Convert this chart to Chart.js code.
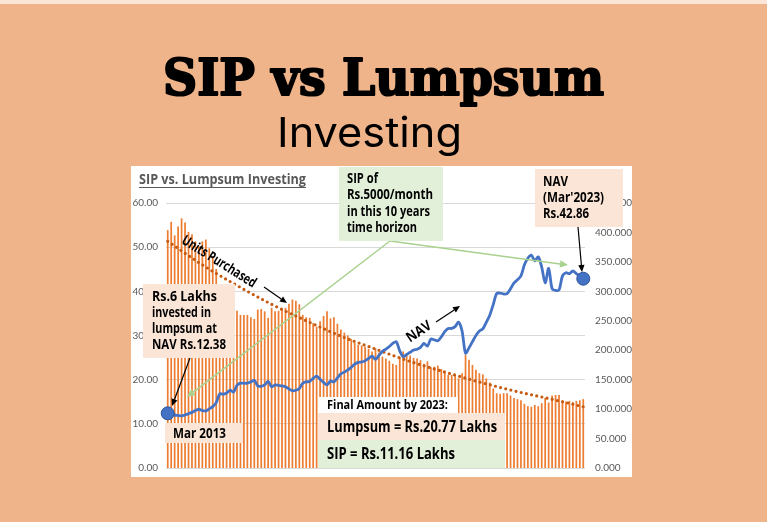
<!DOCTYPE html>
<html><head><meta charset="utf-8">
<script src="https://cdn.jsdelivr.net/npm/chart.js@4.4.0/dist/chart.umd.min.js"></script>
<style>html,body{margin:0;padding:0;background:#EFB48A;} #wrap{width:767px;height:522px;position:relative;}</style>
</head><body><div id="wrap"><canvas id="c" width="767" height="522"></canvas></div>
<script>
// ---- DATA ----
const months = [
'Mar-13','Apr-13','May-13','Jun-13','Jul-13','Aug-13','Sep-13','Oct-13','Nov-13','Dec-13',
'Jan-14','Feb-14','Mar-14','Apr-14','May-14','Jun-14','Jul-14','Aug-14','Sep-14','Oct-14','Nov-14','Dec-14',
'Jan-15','Feb-15','Mar-15','Apr-15','May-15','Jun-15','Jul-15','Aug-15','Sep-15','Oct-15','Nov-15','Dec-15',
'Jan-16','Feb-16','Mar-16','Apr-16','May-16','Jun-16','Jul-16','Aug-16','Sep-16','Oct-16','Nov-16','Dec-16',
'Jan-17','Feb-17','Mar-17','Apr-17','May-17','Jun-17','Jul-17','Aug-17','Sep-17','Oct-17','Nov-17','Dec-17',
'Jan-18','Feb-18','Mar-18','Apr-18','May-18','Jun-18','Jul-18','Aug-18','Sep-18','Oct-18','Nov-18','Dec-18',
'Jan-19','Feb-19','Mar-19','Apr-19','May-19','Jun-19','Jul-19','Aug-19','Sep-19','Oct-19','Nov-19','Dec-19',
'Jan-20','Feb-20','Mar-20','Apr-20','May-20','Jun-20','Jul-20','Aug-20','Sep-20','Oct-20','Nov-20','Dec-20',
'Jan-21','Feb-21','Mar-21','Apr-21','May-21','Jun-21','Jul-21','Aug-21','Sep-21','Oct-21','Nov-21','Dec-21',
'Jan-22','Feb-22','Mar-22','Apr-22','May-22','Jun-22','Jul-22','Aug-22','Sep-22','Oct-22','Nov-22','Dec-22',
'Jan-23','Feb-23','Mar-23'];

const navValues = [
12.38,12.2,12.0,11.9,11.8,12.0,12.3,12.6,13.0,13.3,
13.0,12.9,13.4,13.9,14.8,16.8,16.7,17.0,17.6,17.2,
18.7,19.2,19.2,19.2,19.5,19.8,18.6,18.5,18.8,19.6,
18.4,18.8,18.7,18.6,18.4,17.9,17.5,17.6,18.0,19.2,
19.5,19.6,20.3,20.8,20.1,19.4,18.8,19.7,19.5,20.4,
21.3,21.7,22.2,22.8,23.5,23.9,24.0,24.3,24.8,25.3,
24.6,25.5,26.4,26.9,27.5,28.2,28.6,26.5,25.2,25.7,
26.2,26.7,26.9,27.3,28.2,27.6,29.2,29.0,28.8,29.7,
30.9,31.6,31.6,32.0,33.0,31.0,26.0,27.2,28.6,30.0,
31.0,31.5,33.0,34.6,37.0,39.5,39.6,39.4,39.5,40.6,
41.9,42.6,43.5,46.0,47.5,48.2,46.9,47.8,45.5,41.9,
45.2,40.6,40.2,40.3,43.5,44.2,44.0,44.6,44.0,43.5,
42.86];

const unitsPurchased = [
404,418,395,410,424,417,401,397,385,376,
385,388,373,360,338,298,299,294,284,291,
267,260,260,260,256,253,269,270,266,255,
272,266,267,269,272,279,286,284,278,260,
256,255,246,240,249,258,266,254,256,245,
235,230,225,219,213,209,208,206,202,198,
203,196,189,186,182,177,175,189,198,195,
191,187,186,183,177,181,171,172,174,168,
162,158,158,156,152,161,192,184,175,167,
161,159,152,145,135,127,126,127,127,123,
119,117,115,109,105,104,107,105,110,119,
111,123,124,124,115,113,114,112,114,115,
117];

// trend line readings (month index, units)
const trendIndex  = [0,10,20,30,40,50,60,70,80,90,100,110,120];
const trendValues = [385,345,310,278,250,224,202,181,163,146,131,118,104];

const navTicks  = [0,10,20,30,40,50,60];
const unitTicks = [0,50,100,150,200,250,300,350,400,450];

// table for the library
const trendSeries = months.map(() => null);
trendIndex.forEach((ix, k) => { trendSeries[ix] = trendValues[k]; });

// ---- DRAW HELPERS ----
const PEACH = '#FBE5D6', GREEN = '#E2F0D9';
function ftext(ctx, s, x, y, font, w, color, baseline, strokeW) {
  ctx.save();
  ctx.font = font;
  ctx.fillStyle = color || '#000';
  ctx.strokeStyle = color || '#000';
  ctx.textBaseline = baseline || 'middle';
  ctx.textAlign = 'left';
  const m = ctx.measureText(s).width;
  const sx = w ? w / m : 1;
  ctx.translate(x, y);
  ctx.scale(sx, 1);
  ctx.fillText(s, 0, 0);
  if (strokeW) { ctx.lineWidth = strokeW; ctx.lineJoin = 'round'; ctx.strokeText(s, 0, 0); }
  ctx.restore();
}
function rtext(ctx, s, cx, cy, ang, font, w) {
  ctx.save();
  ctx.font = font;
  ctx.fillStyle = '#000';
  ctx.textBaseline = 'middle';
  ctx.textAlign = 'center';
  const m = ctx.measureText(s).width;
  ctx.translate(cx, cy);
  ctx.rotate(ang * Math.PI / 180);
  ctx.scale(w / m, 1);
  ctx.fillText(s, 0, 0);
  ctx.restore();
}
function arrow(ctx, x1, y1, x2, y2, color, lw, head) {
  ctx.save();
  ctx.strokeStyle = color; ctx.fillStyle = color; ctx.lineWidth = lw;
  const a = Math.atan2(y2 - y1, x2 - x1);
  const bx = x2 - head * Math.cos(a), by = y2 - head * Math.sin(a);
  ctx.beginPath(); ctx.moveTo(x1, y1); ctx.lineTo(bx, by); ctx.stroke();
  ctx.beginPath();
  ctx.moveTo(x2, y2);
  ctx.lineTo(bx + head * 0.45 * Math.sin(a), by - head * 0.45 * Math.cos(a));
  ctx.lineTo(bx - head * 0.45 * Math.sin(a), by + head * 0.45 * Math.cos(a));
  ctx.closePath(); ctx.fill();
  ctx.restore();
}
function box(ctx, x, y, w, h, color) { ctx.fillStyle = color; ctx.fillRect(x, y, w, h); }

const B = (s) => 'bold ' + s + 'px "Open Sans"';

const decor = {
  id: 'decor',
  beforeDraw(chart) {
    const ctx = chart.ctx;
    ctx.save();
    ctx.fillStyle = '#EFB48A'; ctx.fillRect(0, 0, 767, 522);
    ctx.fillStyle = '#FBE6D8'; ctx.fillRect(0, 0, 767, 4);
    ctx.fillStyle = '#FFFFFF'; ctx.fillRect(131, 166, 501, 311);
    // main titles
    ftext(ctx, 'SIP vs Lumpsum', 163, 95, 'bold 51px "DejaVu Serif"', 441, '#000', 'alphabetic', 2.2);
    ftext(ctx, 'Investing', 277, 147, '41px Inter', 185, '#000', 'alphabetic');
    // chart title
    ftext(ctx, 'SIP vs. Lumpsum Investing', 139, 184, 'bold 14.5px "Open Sans"', 167, '#595959', 'alphabetic');
    ctx.strokeStyle = '#595959'; ctx.lineWidth = 1;
    ctx.beginPath(); ctx.moveTo(139, 187.5); ctx.lineTo(306, 187.5); ctx.stroke();
    ctx.restore();
  },
  afterDraw(chart) {
    const ctx = chart.ctx;
    ctx.save();
    // green connector lines
    arrow(ctx, 390, 241, 568, 265, '#A9D18E', 1.5, 8);
    arrow(ctx, 390, 241, 187, 397, '#A9D18E', 1.5, 8);

    // Rs.6 Lakhs box
    box(ctx, 143, 284, 92, 74, PEACH);
    ftext(ctx, 'Rs.6 Lakhs', 152, 297, B(14), 65);
    ftext(ctx, 'invested in', 152, 313, B(14), 59);
    ftext(ctx, 'lumpsum at', 152, 329, B(14), 65);
    ftext(ctx, 'NAV Rs.12.38', 152, 345, B(14), 74);
    arrow(ctx, 190, 358, 172, 406, '#000', 1.2, 7);

    // Mar 2013
    box(ctx, 165, 423, 78, 20, PEACH);
    ftext(ctx, 'Mar 2013', 173, 434, B(14), 53);

    // SIP green box
    box(ctx, 339, 167, 104, 74, GREEN);
    ftext(ctx, 'SIP of', 347, 179, B(14), 31);
    ftext(ctx, 'Rs.5000/month', 347, 195, B(14), 86);
    ftext(ctx, 'in this 10 years', 347, 212, B(14), 83);
    ftext(ctx, 'time horizon', 347, 228, B(14), 70);

    // NAV box
    box(ctx, 535, 169, 88, 58, PEACH);
    ftext(ctx, 'NAV', 543, 182, B(14), 25);
    ftext(ctx, "(Mar'2023)", 543, 198, B(14), 61);
    ftext(ctx, 'Rs.42.86', 543, 214, B(14), 46);
    arrow(ctx, 578, 227, 582, 272, '#000', 1.2, 7);

    // Final amount boxes
    box(ctx, 318, 397, 140, 16, '#FFFFFF');
    ftext(ctx, 'Final Amount by 2023:', 327, 405.5, B(12.5), 121);
    box(ctx, 318, 413, 187, 27, PEACH);
    ftext(ctx, 'Lumpsum = Rs.20.77 Lakhs', 327, 427, B(16), 170);
    box(ctx, 318, 440, 187, 28, GREEN);
    ftext(ctx, 'SIP = Rs.11.16 Lakhs', 327, 454, B(16), 128);

    // rotated labels + arrows
    rtext(ctx, 'Units Purchased', 219, 262, 32, B(14), 85);
    arrow(ctx, 264, 287, 287, 303, '#000', 1.2, 7);
    rtext(ctx, 'NAV', 419, 332, -34, B(14), 27);
    arrow(ctx, 436, 322, 460, 306, '#000', 1.2, 7);
    ctx.restore();
  }
};

const last = navValues.length - 1;
new Chart(document.getElementById('c'), {
  type: 'bar',
  data: {
    labels: months,
    datasets: [
      {
        type: 'line', label: 'NAV', data: navValues, yAxisID: 'y', order: 0,
        borderColor: '#4472C4', borderWidth: 2.8, tension: 0.3,
        pointRadius: (c) => (c.dataIndex === 0 || c.dataIndex === last) ? 6.5 : 0,
        pointBackgroundColor: '#4472C4', pointBorderColor: '#2F5597', pointBorderWidth: 1
      },
      {
        type: 'line', label: 'Trend', data: trendSeries, yAxisID: 'y1', order: 1,
        spanGaps: true, cubicInterpolationMode: 'monotone',
        borderColor: '#C55A11', borderWidth: 3.2, borderDash: [0, 5.3], borderCapStyle: 'round',
        pointRadius: 0
      },
      {
        type: 'bar', label: 'Units Purchased', data: unitsPurchased, yAxisID: 'y1', order: 2,
        backgroundColor: '#ED7D31', barPercentage: 0.5, categoryPercentage: 1
      }
    ]
  },
  options: {
    responsive: false, animation: false, devicePixelRatio: 1,
    layout: { padding: { top: 203, bottom: 54, left: 0, right: 0 } },
    plugins: { legend: { display: false }, tooltip: { enabled: false } },
    scales: {
      x: { display: false, offset: true },
      y: {
        position: 'left', min: 0, max: 60,
        afterBuildTicks: (s) => { s.ticks = navTicks.map(v => ({ value: v })); },
        afterFit: (s) => { s.width = 166; s.paddingTop = 0; s.paddingBottom = 0; },
        ticks: { color: '#595959', font: { family: 'Lato', size: 10 }, padding: 8,
                 callback: (v) => Number(v).toFixed(2) },
        grid: { color: '#D9D9D9', lineWidth: 1, drawTicks: false },
        border: { display: false }
      },
      y1: {
        position: 'right', min: 0, max: 450,
        afterBuildTicks: (s) => { s.ticks = unitTicks.map(v => ({ value: v })); },
        afterFit: (s) => { s.width = 182; s.paddingTop = 0; s.paddingBottom = 0; },
        ticks: { color: '#595959', font: { family: 'Lato', size: 10 }, padding: 10,
                 callback: (v) => Number(v).toFixed(3) },
        grid: { display: false, drawTicks: false },
        border: { display: false }
      }
    }
  },
  plugins: [decor]
});
</script>
</body></html>
